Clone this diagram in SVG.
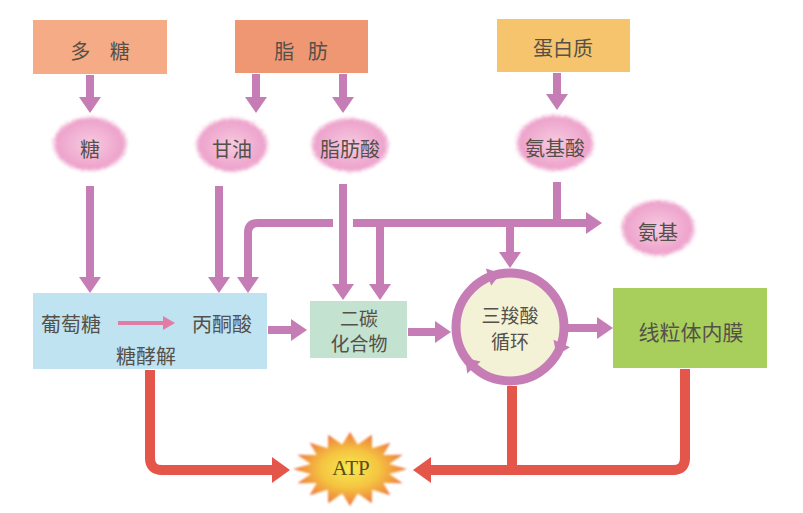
<svg xmlns="http://www.w3.org/2000/svg" xmlns:xlink="http://www.w3.org/1999/xlink" width="803" height="513" viewBox="0 0 803 513">
<style>
  text { font-family: "Noto Sans CJK SC", "Noto Sans", sans-serif; font-size: 20px; fill: #555049; text-anchor: middle; dominant-baseline: central; }
  .two { font-size: 19px; }
  .pink { fill: none; stroke: #C67DB5; stroke-width: 8; }
  .red { fill: none; stroke: #E4554A; stroke-width: 10; }
  .blob { fill: url(#pinkg); filter: url(#fuzz); }
  .atp { font-family: "Liberation Serif", serif; font-size: 21px; fill: #5d4a1e; }
</style>
<defs>
  <radialGradient id="pinkg" cx="50%" cy="50%" r="50%">
    <stop offset="0" stop-color="#F6CBE1"/>
    <stop offset="0.6" stop-color="#F1AFD2"/>
    <stop offset="0.88" stop-color="#EDA2CB"/>
    <stop offset="1" stop-color="#F4C2DC" stop-opacity="0.3"/>
  </radialGradient>
  <radialGradient id="stargrad" cx="50%" cy="50%" r="50%">
    <stop offset="0" stop-color="#F6EA4C"/>
    <stop offset="0.5" stop-color="#F5C542"/>
    <stop offset="0.85" stop-color="#F0903C"/>
    <stop offset="1" stop-color="#EA6A40"/>
  </radialGradient>
  <filter id="fuzz" x="-20%" y="-20%" width="140%" height="140%">
    <feTurbulence type="fractalNoise" baseFrequency="1.1" numOctaves="2" result="n"/>
    <feDisplacementMap in="SourceGraphic" in2="n" scale="8" xChannelSelector="R" yChannelSelector="G" result="d"/>
    <feGaussianBlur in="d" stdDeviation="1.2"/>
  </filter>
  <filter id="soft" x="-10%" y="-10%" width="120%" height="120%">
    <feGaussianBlur stdDeviation="0.8"/>
  </filter>
  <marker id="ah" markerUnits="userSpaceOnUse" markerWidth="16" markerHeight="22" refX="0" refY="11" orient="auto-start-reverse">
    <path d="M0,0 L16,11 L0,22 z" fill="#C67DB5"/>
  </marker>
  <marker id="ahs" markerUnits="userSpaceOnUse" markerWidth="12" markerHeight="14" refX="0" refY="7" orient="auto">
    <path d="M0,0 L12,7 L0,14 z" fill="#E27CA5"/>
  </marker>
  <marker id="rh" markerUnits="userSpaceOnUse" markerWidth="18" markerHeight="26" refX="0" refY="13" orient="auto">
    <path d="M0,0 L18,13 L0,26 z" fill="#E4554A"/>
  </marker>
  <path id="ringHead" d="M-6,-9 L7,0 L-6,9 z" fill="#C67DB5"/>
</defs>

<rect width="803" height="513" fill="#ffffff"/>

<g id="connectors">
  <line class="pink" x1="90" y1="75" x2="90" y2="97" marker-end="url(#ah)"/>
  <line class="pink" x1="256" y1="74" x2="256" y2="97" marker-end="url(#ah)"/>
  <line class="pink" x1="343" y1="74" x2="343" y2="97" marker-end="url(#ah)"/>
  <line class="pink" x1="557" y1="73" x2="557" y2="94" marker-end="url(#ah)"/>
  <line class="pink" x1="90" y1="186" x2="90" y2="277" marker-end="url(#ah)"/>
  <line class="pink" x1="219" y1="186" x2="219" y2="277" marker-end="url(#ah)"/>
  <path class="pink" d="M586,223 L258,223 Q248,223 248,233 L248,277" marker-start="url(#ah)" marker-end="url(#ah)"/>
  <line class="pink" x1="557" y1="182" x2="557" y2="227"/>
  <line class="pink" x1="380" y1="223" x2="380" y2="284" marker-end="url(#ah)"/>
  <line class="pink" x1="510" y1="223" x2="510" y2="252" marker-end="url(#ah)"/>
  <line x1="343" y1="212" x2="343" y2="234" stroke="#ffffff" stroke-width="20"/>
  <line class="pink" x1="343" y1="184" x2="343" y2="284" marker-end="url(#ah)"/>
  <line class="pink" x1="268" y1="330" x2="291" y2="330" marker-end="url(#ah)"/>
  <line class="pink" x1="408" y1="332" x2="435" y2="332" marker-end="url(#ah)"/>
  <line class="pink" x1="568" y1="328" x2="597" y2="328" marker-end="url(#ah)"/>
  <path class="red" d="M150,370 L150,458 Q150,470 162,470 L272,470" marker-end="url(#rh)"/>
  <path class="red" d="M685,369 L685,458 Q685,470 673,470 L431,470" marker-end="url(#rh)"/>
  <line class="red" x1="512" y1="386" x2="512" y2="470"/>
</g>

<g id="node-duotang">
  <rect x="33" y="20" width="134" height="54" fill="#F5AB85"/>
  <text x="100" y="50" word-spacing="15">多 糖</text>
</g>
<g id="node-zhifang">
  <rect x="235" y="20" width="133" height="53" fill="#EF9672"/>
  <text x="301" y="50" word-spacing="9">脂 肪</text>
</g>
<g id="node-danbaizhi">
  <rect x="497" y="19" width="133" height="53" fill="#F6C46C"/>
  <text x="563" y="47">蛋白质</text>
</g>

<g id="node-tang">
  <ellipse class="blob" cx="90" cy="144" rx="38" ry="28"/>
  <text x="90" y="148">糖</text>
</g>
<g id="node-ganyou">
  <ellipse class="blob" cx="232" cy="145" rx="37" ry="28"/>
  <text x="232" y="148">甘油</text>
</g>
<g id="node-zhifangsuan">
  <ellipse class="blob" cx="350" cy="145" rx="40" ry="28"/>
  <text x="350" y="148">脂肪酸</text>
</g>
<g id="node-anjisuan">
  <ellipse class="blob" cx="555" cy="143" rx="40" ry="29"/>
  <text x="555" y="147">氨基酸</text>
</g>
<g id="node-anji">
  <ellipse class="blob" cx="658" cy="228" rx="38" ry="29"/>
  <text x="658" y="231">氨基</text>
</g>

<g id="node-glycolysis">
  <rect x="33" y="293" width="234" height="76" fill="#BFE3F1"/>
  <text x="71" y="323">葡萄糖</text>
  <line x1="118" y1="323" x2="163" y2="323" stroke="#E27CA5" stroke-width="4" marker-end="url(#ahs)"/>
  <text x="222" y="323">丙酮酸</text>
  <text x="146" y="355">糖酵解</text>
</g>

<g id="node-ertan">
  <rect x="310" y="301" width="97" height="57" fill="#C3E2CF"/>
  <text class="two" x="359" y="317">二碳</text>
  <text class="two" x="359" y="342">化合物</text>
</g>

<g id="node-tca">
  <circle cx="510" cy="327" r="54" fill="#F3F2D6" stroke="#C67DB5" stroke-width="9"/>
  <use xlink:href="#ringHead" transform="translate(494.2,275.4) rotate(-17)"/>
  <use xlink:href="#ringHead" transform="translate(559.3,349) rotate(114)"/>
  <use xlink:href="#ringHead" transform="translate(469.9,363.1) rotate(228)"/>
  <text class="two" x="510" y="314">三羧酸</text>
  <text class="two" x="510" y="340">循环</text>
</g>

<g id="node-mito">
  <rect x="613" y="288" width="154" height="80" fill="#A8CF5C"/>
  <text x="691" y="331" style="font-size:21px">线粒体内膜</text>
</g>

<g id="node-atp">
  <polygon filter="url(#soft)" fill="url(#stargrad)" points="407,469 389.2,473.9 402.7,483.2 383.3,482.9 390.3,495.2 372.2,489.8 371.8,503.2 357.8,493.5 350,506 342.2,493.5 328.2,503.2 327.8,489.8 309.7,495.2 316.7,482.9 297.3,483.2 310.8,473.9 293,469 310.8,464.1 297.3,454.8 316.7,455.1 309.7,442.8 327.8,448.2 328.2,434.8 342.2,444.5 350,432 357.8,444.5 371.8,434.8 372.2,448.2 390.3,442.8 383.3,455.1 402.7,454.8 389.2,464.1"/>
  <text class="atp" x="351" y="468">ATP</text>
</g>
</svg>
